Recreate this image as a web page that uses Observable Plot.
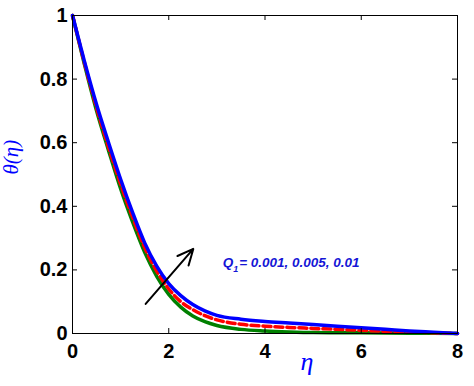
<!DOCTYPE html>
<html>
<head>
<meta charset="utf-8">
<script src="https://cdn.jsdelivr.net/npm/d3@7"></script>
<script src="https://cdn.jsdelivr.net/npm/@observablehq/plot@0.6"></script>
<style>
  html, body { margin: 0; padding: 0; background: #fff; }
  svg { display: block; }
</style>
</head>
<body>
<div id="chart"></div>
<script>
// η grid
const eta = [0, 0.25, 0.5, 0.75, 1.0, 1.25, 1.5, 1.75, 2.0, 2.25, 2.5, 2.75, 3.0, 3.5, 4.0, 4.5, 5.0, 5.5, 6.0, 6.5, 7.0, 7.5, 8.0];
// θ(η) for Q1 = 0.001 (green), 0.005 (red dashed), 0.01 (blue)
const thetaQ001  = [1.0, 0.845, 0.70, 0.575, 0.455, 0.35, 0.255, 0.18, 0.123, 0.083, 0.055, 0.037, 0.025, 0.013, 0.008, 0.005, 0.003, 0.0025, 0.002, 0.0015, 0.001, 0.0005, 0];
const thetaQ005  = [1.0, 0.85, 0.71, 0.585, 0.47, 0.365, 0.27, 0.196, 0.14, 0.1, 0.075, 0.056, 0.043, 0.029, 0.023, 0.019, 0.016, 0.013, 0.010, 0.007, 0.005, 0.002, 0];
const thetaQ01   = [1.0, 0.855, 0.72, 0.6, 0.485, 0.38, 0.285, 0.212, 0.157, 0.119, 0.091, 0.071, 0.057, 0.045, 0.038, 0.033, 0.028, 0.023, 0.018, 0.013, 0.008, 0.004, 0];

const xTicks = [0, 2, 4, 6, 8];
const xTickLabels = ["0", "2", "4", "6", "8"];
const yTicks = [0, 0.2, 0.4, 0.6, 0.8, 1];
const yTickLabels = ["0", "0.2", "0.4", "0.6", "0.8", "1"];

// annotation
const qText = ["Q", "1", "= 0.001, 0.005, 0.01"];
const qPos = [3.12, 0.222];
const arrowFrom = [1.52, 0.093];
const arrowTo = [2.51, 0.266];

const mk = (ys) => eta.map((e, i) => ({eta: e, theta: ys[i]}));
const green = mk(thetaQ001), red = mk(thetaQ005), blue = mk(thetaQ01);

const W = 474, H = 386, mL = 72, mR = 17, mT = 15, mB = 53;
const fw = W - mL - mR, fh = H - mT - mB;
const tl = 5;
const tickFont = {fontSize: 20, fontWeight: "bold", fontFamily: "Liberation Sans, Arial, sans-serif"};
const qFont = {fontWeight: "bold", fontStyle: "italic", fontFamily: "Liberation Sans, Arial, sans-serif", fill: "#1515d6"};

const chart = Plot.plot({
  width: W, height: H,
  marginLeft: mL, marginRight: mR, marginTop: mT, marginBottom: mB,
  style: {background: "#fff", color: "#000"},
  x: {domain: [0, 8]},
  y: {domain: [0, 1]},
  marks: [
    Plot.line(green, {x: "eta", y: "theta", stroke: "#008000", strokeWidth: 3.5, curve: "monotone-x"}),
    Plot.line(red, {x: "eta", y: "theta", stroke: "#ff0000", strokeWidth: 3.5, strokeDasharray: "8,4", curve: "monotone-x"}),
    Plot.line(blue, {x: "eta", y: "theta", stroke: "#0000ff", strokeWidth: 3.5, curve: "monotone-x"}),
    // inward ticks on all four sides
    Plot.tickX(xTicks, {x: d => d, insetTop: fh - tl, stroke: "#000"}),
    Plot.tickX(xTicks, {x: d => d, insetBottom: fh - tl, stroke: "#000"}),
    Plot.tickY(yTicks, {y: d => d, insetRight: fw - tl, stroke: "#000"}),
    Plot.tickY(yTicks, {y: d => d, insetLeft: fw - tl, stroke: "#000"}),
    Plot.axisX({ticks: xTicks, tickFormat: (d, i) => xTickLabels[i], tickSize: 0, tickPadding: 10, label: null, ...tickFont}),
    Plot.axisY({ticks: yTicks, tickFormat: (d, i) => yTickLabels[i], tickSize: 0, tickPadding: 5, label: null, ...tickFont}),
    Plot.frame({stroke: "#000", strokeWidth: 1}),
    // axis labels
    Plot.text(["θ(η)"], {frameAnchor: "left", dx: -61, rotate: -90, fill: "#0000ff", fontSize: 21, fontStyle: "italic", fontFamily: "Liberation Serif, Times New Roman, serif"}),
    Plot.text(["η"], {frameAnchor: "bottom", dx: 42, dy: 36, fill: "#0000ff", fontSize: 26, fontStyle: "italic", fontFamily: "Liberation Serif, Times New Roman, serif"}),
    // annotation
    Plot.arrow([0], {x1: () => arrowFrom[0], y1: () => arrowFrom[1], x2: () => arrowTo[0], y2: () => arrowTo[1], stroke: "#000", strokeWidth: 2, headLength: 13, headAngle: 50}),
    Plot.text([qText[0]], {x: () => qPos[0], y: () => qPos[1], textAnchor: "start", fontSize: 13.5, ...qFont}),
    Plot.text([qText[1]], {x: () => qPos[0], y: () => qPos[1], textAnchor: "start", dx: 10.5, dy: 6, fontSize: 9, ...qFont}),
    Plot.text([qText[2]], {x: () => qPos[0], y: () => qPos[1], textAnchor: "start", dx: 16.5, fontSize: 13.5, ...qFont, ariaLabel: "qvals"})
  ]
});
const qg = chart.querySelector('g[aria-label="qvals"]');
if (qg) qg.style.letterSpacing = "0.6px";
document.getElementById("chart").appendChild(chart);
</script>
</body>
</html>
